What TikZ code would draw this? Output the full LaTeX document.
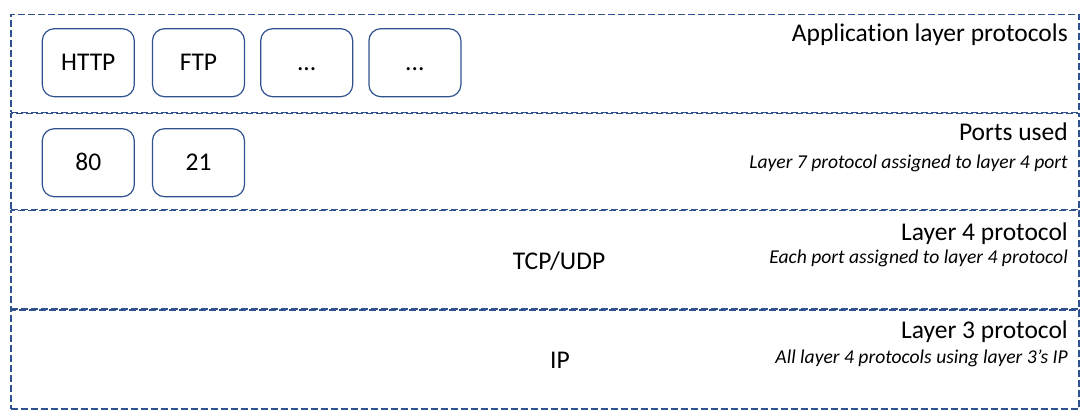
\documentclass[tikz,border=0pt]{standalone}
\usepackage{fontspec}
\setmainfont{Carlito}[Ligatures=NoCommon]
\usetikzlibrary{positioning}
\definecolor{layerblue}{HTML}{2F528F}

\begin{document}
\begin{tikzpicture}[x=1pt, y=-1pt,
  layer/.style={draw=layerblue, line width=1.2pt, dash pattern=on 7pt off 3pt,
    minimum width=1068pt, inner sep=0pt},
  proto/.style={draw=layerblue, line width=1.2pt, rounded corners=12pt,
    minimum width=92pt, minimum height=68pt, inner sep=0pt,
    text height=16.4pt, text depth=0pt,
    font=\fontsize{25.5}{30}\selectfont},
  title/.style={anchor=base east, inner sep=0pt, font=\fontsize{25.5}{30}\selectfont},
  note/.style={anchor=base east, inner sep=0pt, font=\fontsize{19.6}{23}\selectfont\itshape},
  big/.style={anchor=base, inner sep=0pt, font=\fontsize{25.5}{30}\selectfont}]
  \useasboundingbox (0,0) rectangle (1090,417);

  % the four layers
  \node[layer, minimum height=98pt] (app) at (545,63.5) {};
  \node[layer, minimum height=96pt] (ports) at (545,161.5) {};
  \node[layer, minimum height=98.5pt] (l4) at (545,259.75) {};
  \node[layer, minimum height=99pt] (l3) at (545,359.5) {};

  % layer captions
  \node[title] (apptitle) at (1068,41.5) {Application layer protocols};
  \node[title] (portstitle) at (1068,141) {Ports used};
  \node[note] (portsnote) at (1068,168) {Layer 7 protocol assigned to layer 4 port};
  \node[title] (l4title) at (1068,240) {Layer 4 protocol};
  \node[note] (l4note) at (1068,263) {Each port assigned to layer 4 protocol};
  \node[title] (l3title) at (1068,338) {Layer 3 protocol};
  \node[note] (l3note) at (1068,363.5) {All layer 4 protocols using layer 3’s IP};

  % application protocols
  \node[proto] (http) at (88.3,62.7) {HTTP};
  \node[proto, right=17pt of http] (ftp) {FTP};
  \node[proto, right=15pt of ftp] (more) {...};
  \node[proto, right=15pt of more] (moremore) {...};

  % ports
  \node[proto] (p80) at (88.3,162.7) {80};
  \node[proto, right=17pt of p80] (p21) {21};

  % transport and network
  \node[big] (tcpudp) at (559,269) {TCP/UDP};
  \node[big] (ip) at (560,368) {IP};
\end{tikzpicture}
\end{document}
